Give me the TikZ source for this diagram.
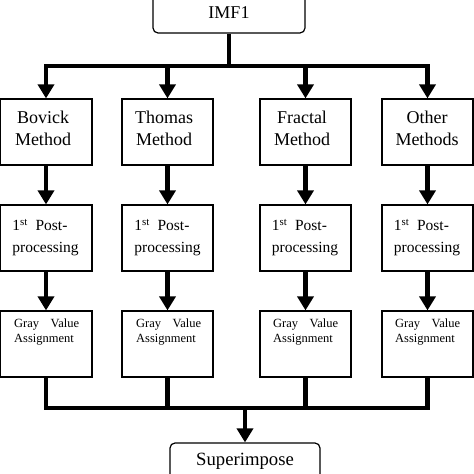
\documentclass[tikz,border=0pt]{standalone}
\usepackage{fontspec}
\setmainfont{Liberation Serif}
\usetikzlibrary{arrows.meta}
\begin{document}
\begin{tikzpicture}[x=1pt,y=-1pt,
  box/.style={draw=black, line width=1.2pt, fill=white, inner sep=0pt, minimum height=66pt},
  rbox/.style={draw=black, line width=1.2pt, fill=white, rounded corners=5pt, inner sep=0pt},
  big/.style={font=\fontsize{18}{22}\selectfont, align=center},
  conn/.style={line width=4.5pt, line join=miter},
  arr/.style={conn, -{Triangle[length=14pt,width=16pt]}}]
\useasboundingbox (0,0) rectangle (474,474);
% top and bottom rounded boxes
\node[rbox, minimum width=152pt, minimum height=40pt, font=\fontsize{18}{22}\selectfont] (imf) at (229,13) {IMF1};
\node[rbox, minimum width=150pt, minimum height=36pt, font=\fontsize{18.7}{22}\selectfont] (sup) at (245,461) {Superimpose};
% method boxes
\node[box, minimum width=92pt] (m1) at (46,132) {};
\node[box, minimum width=91pt] (m2) at (167.5,132) {};
\node[box, minimum width=91pt] (m3) at (305.5,132) {};
\node[box, minimum width=91pt] (m4) at (427.5,132) {};
\node[big] at (43,128) {Bovick\\Method};
\node[big] at (164,128) {Thomas\\Method};
\node[big] at (302,128) {Fractal\\Method};
\node[big] at (427,128) {Other\\Methods};
% post-processing boxes
\node[box, minimum width=92pt] (p1) at (46,238) {};
\node[box, minimum width=91pt] (p2) at (167.5,238) {};
\node[box, minimum width=91pt] (p3) at (305.5,238) {};
\node[box, minimum width=91pt] (p4) at (427.5,238) {};
\foreach \x in {45.5,167.5,305,427}{
  \node[font=\fontsize{15.5}{22}\selectfont, align=left] at (\x,238) {1\textsuperscript{st}\ \ Post-\\processing};
}
% gray value boxes
\node[box, minimum width=92pt] (g1) at (46,344) {};
\node[box, minimum width=91pt] (g2) at (167.5,344) {};
\node[box, minimum width=91pt] (g3) at (305.5,344) {};
\node[box, minimum width=91pt] (g4) at (427.5,344) {};
\foreach \x in {14,136,273,395}{
  \node[anchor=north west, inner sep=0pt, font=\fontsize{12.5}{14.5}\selectfont, align=left] at (\x,319)
    {\makebox[65pt][s]{Gray\hfill Value}\\Assignment};
}
% connectors
\coordinate (tj) at (229,66);
\draw[conn] (imf.south) -- (tj);
\foreach \m in {m1,m2,m3,m4}{ \draw[arr] (tj) -| (\m.north); }
\foreach \a/\b in {m1/p1,m2/p2,m3/p3,m4/p4,p1/g1,p2/g2,p3/g3,p4/g4}{ \draw[arr] (\a.south) -- (\b.north); }
\coordinate (bj) at (245,408);
\foreach \g in {g1,g2,g3,g4}{ \draw[conn] (\g.south) |- (bj); }
\draw[arr] (bj) -- (sup.north);
\end{tikzpicture}
\end{document}
